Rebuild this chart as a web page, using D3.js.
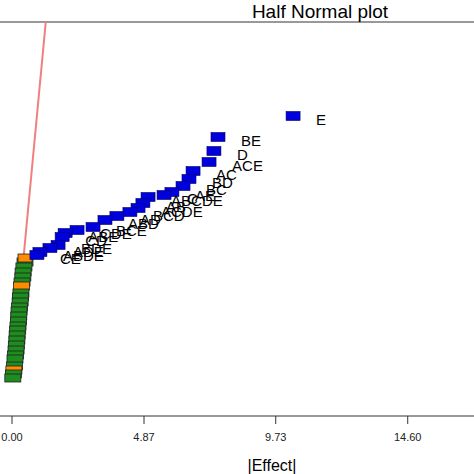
<!DOCTYPE html>
<html><head><meta charset="utf-8">
<script src="https://cdn.jsdelivr.net/npm/d3@7"></script>
<style>body{margin:0;background:#fff}</style>
</head><body>
<div id="chart"></div>
<script>
// Half normal plot data: |effect| and half-normal quantile
var sigEffects = [10.37, 7.60, 7.45, 7.27, 6.68, 6.53, 6.31, 5.90, 5.61, 5.02, 4.83, 4.65, 4.35, 3.87, 3.43, 2.99, 2.40, 1.96, 1.85, 1.70, 1.40, 1.03, 0.92];
var sigQuant   = [2.64, 2.43, 2.29, 2.18, 2.09, 2.01, 1.94, 1.88, 1.85, 1.83, 1.77, 1.72, 1.68, 1.64, 1.60, 1.53, 1.50, 1.47, 1.43, 1.35, 1.32, 1.28, 1.25];
var sigLabels  = ["E", "BE", "D", "ACE", "AC", "BD", "BC", "AE", "C", "ABCDE", "AB", "ACDE", "BCD", "AD", "ABD", "BCE", "CDE", "ABE", "CD", "BDE", "ADE", "ABDE", "CE"];
var nsEffects = [0.48, 0.44, 0.41, 0.40, 0.37, 0.35, 0.33, 0.31, 0.30, 0.28, 0.26, 0.25, 0.24, 0.22, 0.21, 0.19, 0.18, 0.16, 0.15, 0.13, 0.11, 0.09, 0.07, 0.05, 0.03];
var nsQuant   = [1.18, 1.13, 1.08, 1.03, 0.98, 0.94, 0.87, 0.83, 0.78, 0.73, 0.69, 0.64, 0.59, 0.54, 0.50, 0.45, 0.40, 0.35, 0.30, 0.25, 0.21, 0.14, 0.10, 0.06, 0.02];
var nsOrange  = [0, 0, 0, 0, 0, 1, 0, 0, 0, 0, 0, 0, 0, 0, 0, 0, 0, 0, 0, 0, 0, 0, 1, 0, 0];
var topEffect = 0.48, topQuant = 1.22;
var refLine = [[0, 0], [1.6, 4.6]];
var xTicks = [0, 4.87, 9.73, 14.60];

var W = 474, H = 474;
var svg = d3.select("#chart").append("svg").attr("width", W).attr("height", H)
  .style("font-family", "Arial, 'Liberation Sans', sans-serif");

var x = d3.scaleLinear().domain([0, 4.87]).range([12, 144]);
var y = d3.scaleLinear().domain([0, 1]).range([380, 280]);

svg.append("defs").append("clipPath").attr("id", "clip")
  .append("rect").attr("x", 0).attr("y", 22).attr("width", W).attr("height", 394);

// frame lines
svg.append("line").attr("x1", 0).attr("x2", W).attr("y1", 22).attr("y2", 22).attr("stroke", "#333");
svg.append("text").attr("x", 320).attr("y", 18).attr("text-anchor", "middle")
  .style("font-size", "19px").text("Half Normal plot");

var xAxis = svg.append("g").attr("transform", "translate(0,416)");
xAxis.append("line").attr("x1", 0).attr("x2", W).attr("stroke", "#333");
xAxis.selectAll(".tk").data(xTicks).enter().append("line")
  .attr("x1", d => x(d)).attr("x2", d => x(d)).attr("y1", 0).attr("y2", 8).attr("stroke", "#333");
xAxis.selectAll(".tl").data(xTicks).enter().append("text")
  .attr("x", d => x(d)).attr("y", 25).attr("text-anchor", "middle")
  .style("font-size", "11px").style("fill", "#222").text(d => d.toFixed(2));
svg.append("text").attr("x", 272).attr("y", 471).attr("text-anchor", "middle")
  .style("font-size", "16px").text("|Effect|");

var plot = svg.append("g").attr("clip-path", "url(#clip)");

plot.append("line")
  .attr("x1", x(refLine[0][0])).attr("y1", y(refLine[0][1]))
  .attr("x2", x(refLine[1][0])).attr("y2", y(refLine[1][1]))
  .attr("stroke", "#f08080").attr("stroke-width", 2);

// non-significant effects
plot.selectAll(".ns").data(nsEffects).enter().append("rect")
  .attr("x", d => x(d) - 8).attr("y", (d, i) => y(nsQuant[i]) - 4)
  .attr("width", 16).attr("height", 8)
  .attr("fill", (d, i) => nsOrange[i] ? "#ff8c00" : "#1e8c1e")
  .attr("stroke", "#222").attr("stroke-width", 0.8);
plot.append("rect").attr("x", x(topEffect) - 7).attr("y", y(topQuant) - 4)
  .attr("width", 14).attr("height", 8).attr("fill", "#ff8c00")
  .attr("stroke", "#222").attr("stroke-width", 0.8);

// significant effects
plot.selectAll(".sig").data(sigEffects).enter().append("rect")
  .attr("x", d => x(d) - 7).attr("y", (d, i) => y(sigQuant[i]) - 4.5)
  .attr("width", 14).attr("height", 9).attr("fill", "#0000dd")
  .attr("stroke", "#000066").attr("stroke-width", 0.6);
plot.selectAll(".lab").data(sigEffects).enter().append("text")
  .attr("x", d => x(d) + 23).attr("y", (d, i) => y(sigQuant[i]) + 9)
  .style("font-size", "15px").text((d, i) => sigLabels[i]);
</script>
</body></html>
